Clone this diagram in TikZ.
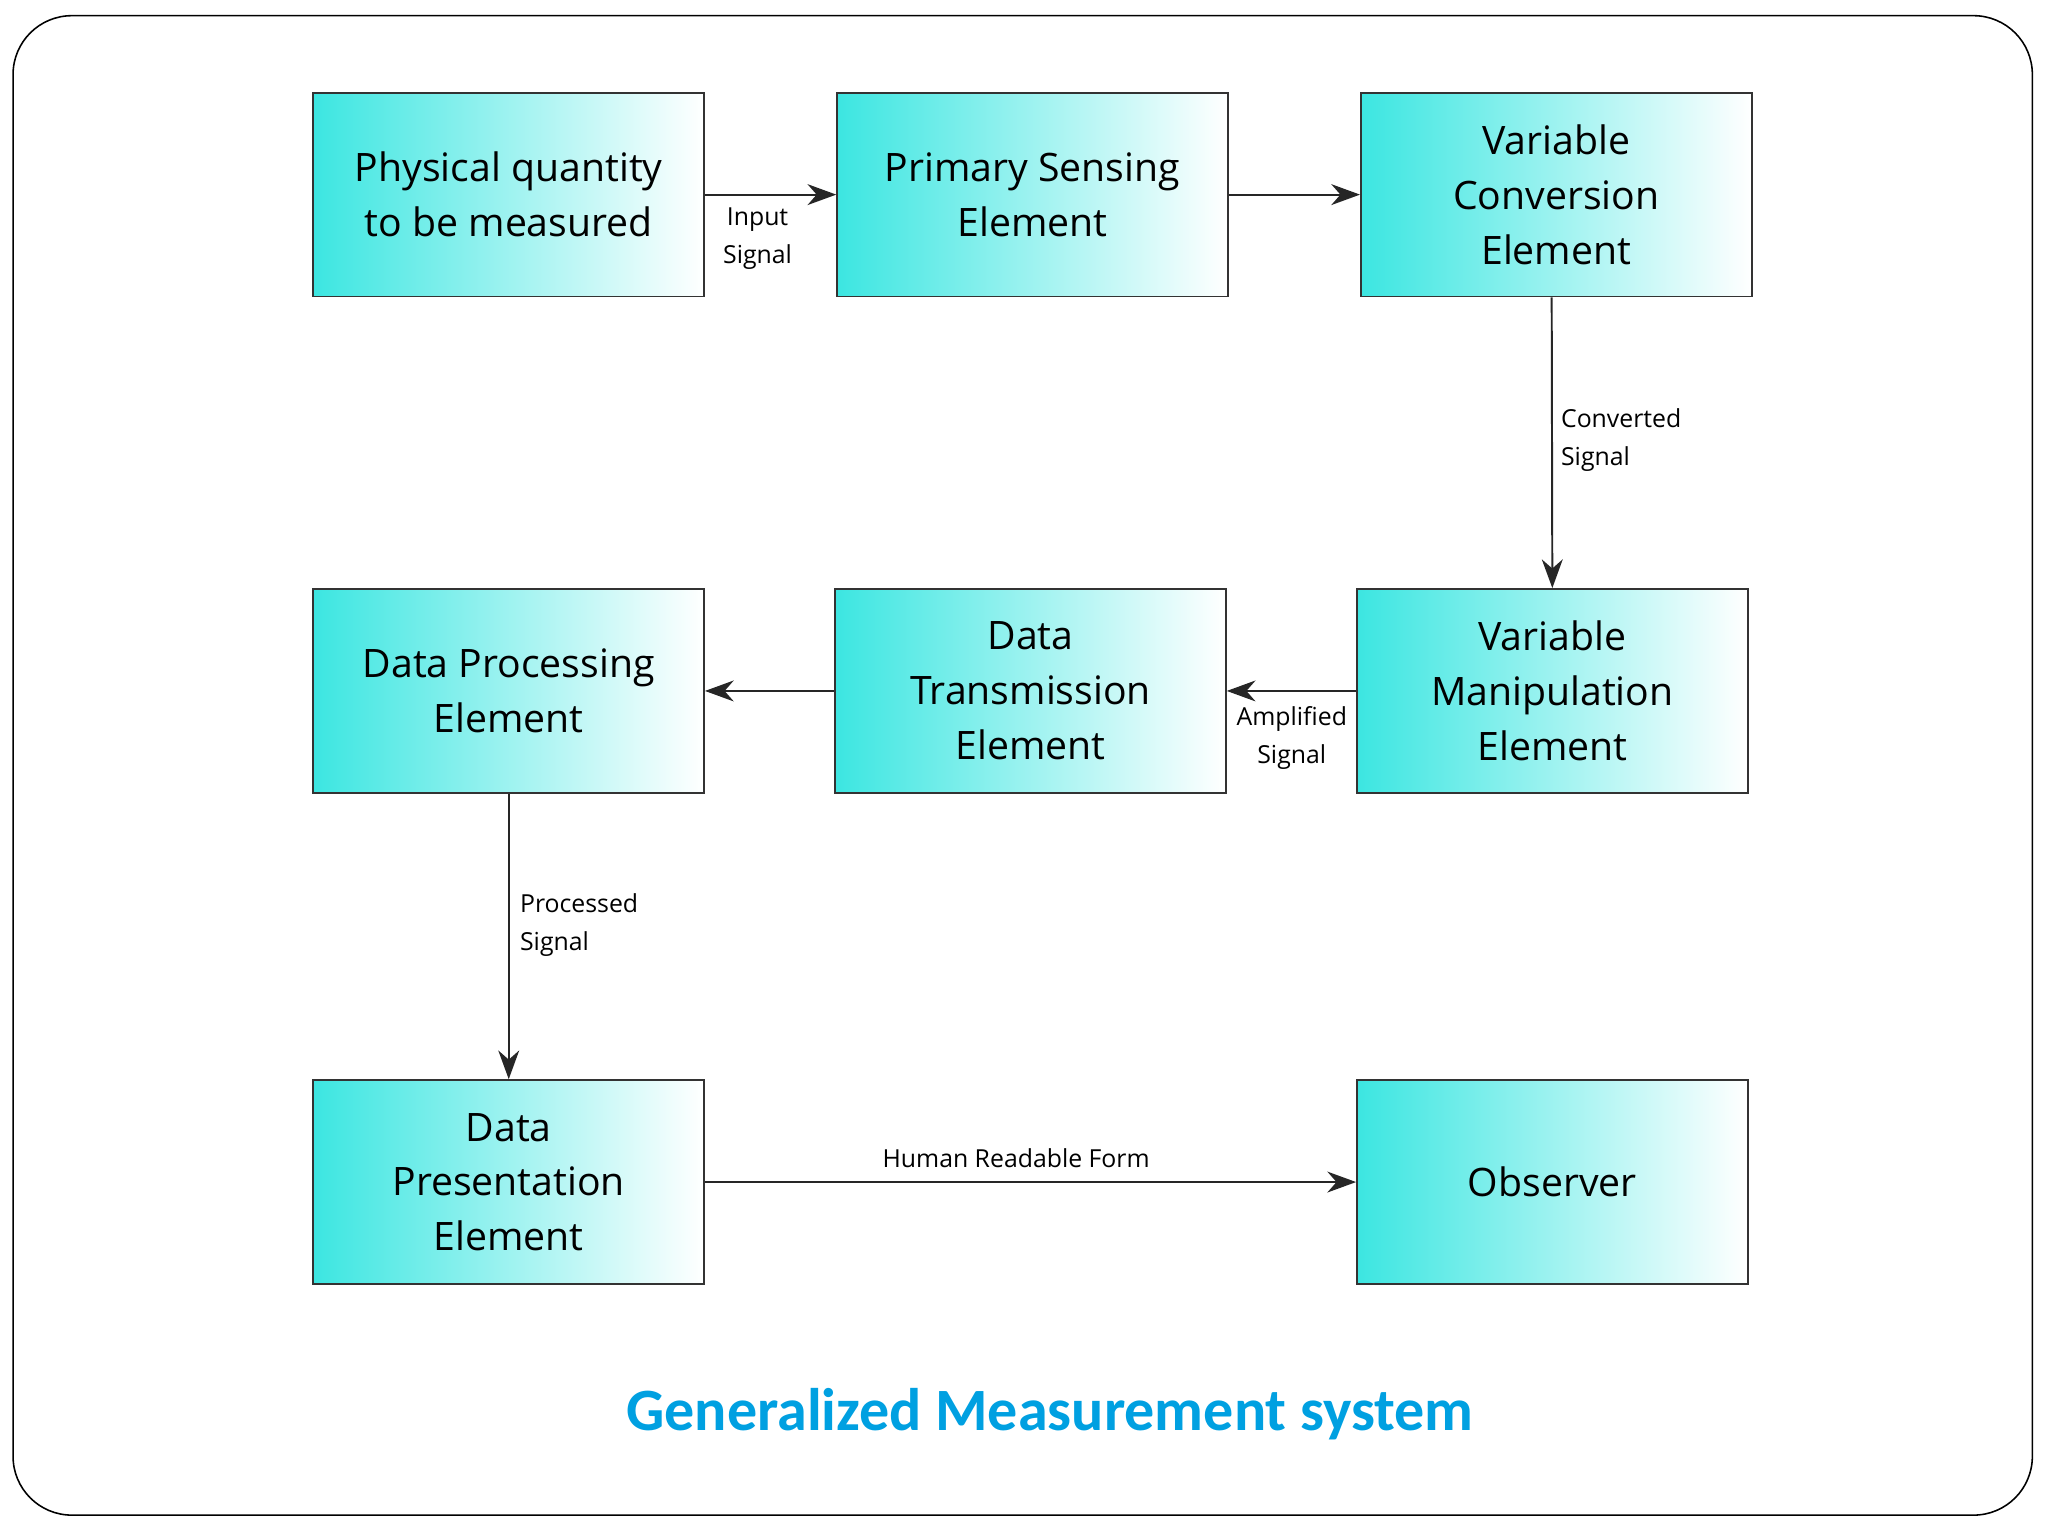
\documentclass[tikz,border=0pt]{standalone}
\usepackage{fontspec}
\setmainfont{Open Sans}
\newfontfamily\titlefont{Carlito}
\usetikzlibrary{arrows.meta}
\definecolor{tcyan}{RGB}{60,230,225}
\definecolor{titleblue}{RGB}{0,160,225}
\begin{document}
\begin{tikzpicture}[x=1pt,y=-1pt,
  box/.style={draw=black!80,line width=1.5pt,minimum width=299pt,minimum height=156pt,
    left color=tcyan,right color=white,align=center,font=\fontsize{30}{42}\selectfont,inner sep=0pt},
  arr/.style={draw=black!85,line width=1.5pt,-{Stealth[length=22pt,width=16pt,inset=7pt]}},
  lab/.style={font=\fontsize{19}{29}\selectfont,align=left,inner sep=0pt}]
\useasboundingbox (0,0) rectangle (1568,1176);
\draw[line width=1.2pt,rounded corners=45pt] (10,12) rectangle (1556,1160);
\node[box] (a) at (389.5,149) {Physical quantity\\to be measured};
\node[box] (b) at (790.5,149) {Primary Sensing\\Element};
\node[box] (c) at (1191.5,149) {Variable\\Conversion\\Element};
\node[box] (d) at (389.5,529) {Data Processing\\Element};
\node[box] (e) at (789,529) {Data\\Transmission\\Element};
\node[box] (f) at (1188.5,529) {Variable\\Manipulation\\Element};
\node[box] (g) at (389.5,905) {Data\\Presentation\\Element};
\node[box] (h) at (1188.5,905) {Observer};
\draw[arr] (a) -- (b);
\draw[arr] (b) -- (c);
\draw[arr] (c.south -| 1188,0) -- (f.north);
\draw[arr] (f) -- (e);
\draw[arr] (e) -- (d);
\draw[arr] (d) -- (g);
\draw[arr] (g) -- (h);
\node[lab,align=center] (l1) at (580,183) {Input\\Signal};
\node[lab,anchor=west] (l2) at (1195,337) {Converted\\Signal};
\node[lab,align=center] (l3) at (989,565) {Amplified\\Signal};
\node[lab,anchor=west] (l4) at (398,708) {Processed\\Signal};
\node[lab] (l5) at (778,887) {Human Readable Form};
\node[font=\titlefont\bfseries\fontsize{46}{50}\selectfont,text=titleblue] (t) at (804,1083) {Generalized Measurement system};
\end{tikzpicture}
\end{document}
